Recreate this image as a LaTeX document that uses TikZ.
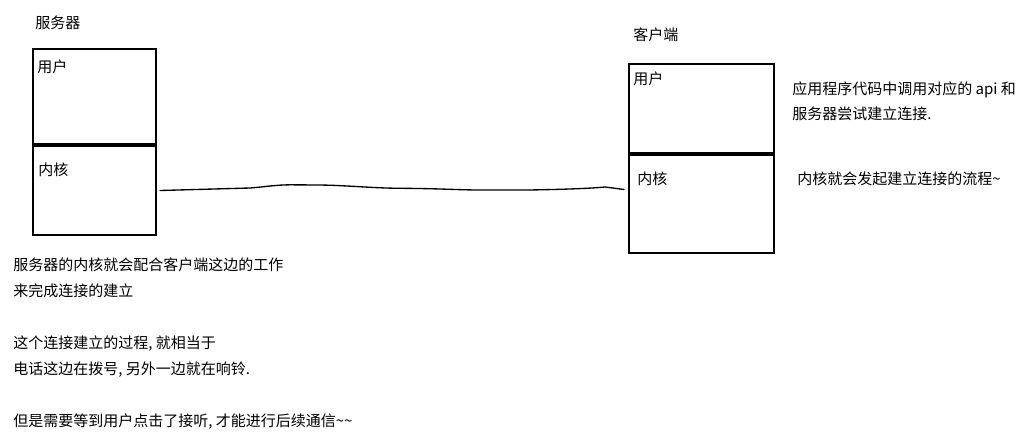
\documentclass[tikz,border=0pt]{standalone}
\usepackage{fontspec}
\setmainfont{Noto Sans CJK SC}
\usepackage{tikz}
\usetikzlibrary{positioning}

\tikzset{
  layer/.style={draw, line width=1.5pt, inner sep=0pt, anchor=north west},
  tag/.style={inner sep=0pt, anchor=west, font=\fontsize{11.25}{18.75}\selectfont},
  wire/.style={line width=1pt, line cap=round},
}

\begin{document}
\begin{tikzpicture}[x=0.75pt,y=0.75pt,yscale=-1,xscale=1]
\useasboundingbox (0,0) rectangle (1022,437);

%Shape: Rectangle [server user]
\node[layer, minimum width=92.25pt, minimum height=71.25pt] (suser) at (32,48) {};
%Shape: Rectangle [server kernel]
\node[layer, minimum width=92.25pt, minimum height=66.75pt, below=0pt of suser] (skernel) {};
%Shape: Rectangle [client user]
\node[layer, minimum width=108.75pt, minimum height=66.75pt] (cuser) at (628,63) {};
%Shape: Rectangle [client kernel]
\node[layer, minimum width=108.75pt, minimum height=73.5pt, below=0pt of cuser] (ckernel) {};

%Curve Lines
\coordinate (cend) at ([xshift=-3pt,yshift=-10.9pt]ckernel.west);
\draw[wire] ([xshift=2.25pt]skernel.east) -- (250,188) .. controls (268,186.5) and (275,185) .. (290,184.8) -- (320,185) .. controls (350,185.5) and (370,188) .. (400,188.3) .. controls (440,188.5) and (460,190) .. (480,190) -- (528,190) .. controls (560,189.5) and (590,188.5) .. (605,187) -- (cend);

%Text
\node[tag] (stitle) at (35,23) {服务器};
\node[tag] (susertxt) at (37,66.5) {用户};
\node[tag] (skerneltxt) at (38,170) {内核};
\node[tag] (ctitle) at (633,35) {客户端};
\node[tag] (cusertxt) at (633,79) {用户};
\node[tag] (ckerneltxt) at (637,178.5) {内核};
\node[tag, align=left] (apinote) at (792,101.5) {应用程序代码中调用对应的 api 和\\服务器尝试建立连接.};
\node[tag] (kernelnote) at (797,179) {内核就会发起建立连接的流程\textasciitilde};
\node[tag, anchor=north west, align=left, font=\fontsize{11.25}{19.5}\selectfont] (summary) at (13,257.5) {服务器的内核就会配合客户端这边的工作\\来完成连接的建立\\[19.5pt]这个连接建立的过程, 就相当于\\电话这边在拨号, 另外一边就在响铃.\\[19.5pt]但是需要等到用户点击了接听, 才能进行后续通信\textasciitilde\textasciitilde};

\end{tikzpicture}
\end{document}
